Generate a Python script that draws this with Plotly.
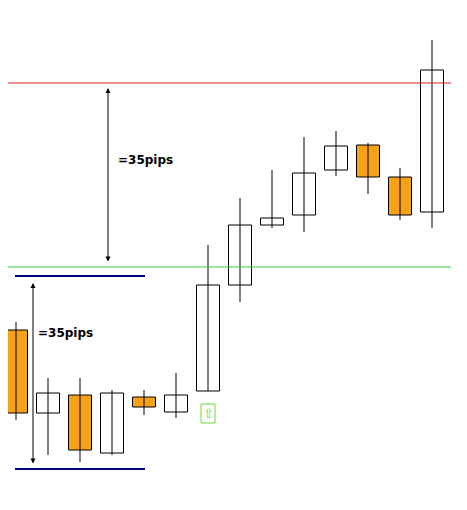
import plotly.graph_objects as go

H = 510
xs    = [16, 48, 80, 112, 144, 176, 208, 240, 272, 304, 336, 368, 400, 432]
opens = [330, 413, 395, 453, 397, 412, 391, 285, 225, 215, 170, 145, 177, 212]
closes= [413, 393, 450, 393, 407, 395, 285, 225, 218, 173, 146, 177, 215, 70]
highs = [322, 378, 378, 390, 390, 373, 245, 198, 170, 137, 131, 143, 168, 40]
lows  = [420, 455, 462, 455, 415, 418, 391, 302, 228, 232, 176, 194, 220, 228]
label = "=35pips"

P = lambda v: H - v
o = [P(v) for v in opens]; c = [P(v) for v in closes]
hi = [P(v) for v in highs]; lo = [P(v) for v in lows]

fig = go.Figure()
wx, wy = [], []
for x, h, l in zip(xs, hi, lo):
    wx += [x, x, None]; wy += [h, l, None]
fig.add_trace(go.Scatter(x=wx, y=wy, mode="lines", line=dict(color="black", width=1), hoverinfo="skip"))
colors = ["white" if cc > oo else "#F7A11A" for oo, cc in zip(o, c)]
fig.add_trace(go.Bar(x=xs, base=[min(a, b) for a, b in zip(o, c)], y=[abs(a - b) for a, b in zip(o, c)],
                     width=23, marker=dict(color=colors, line=dict(color="black", width=1))))

shapes = [
    dict(type="line", x0=0, x1=451, y0=P(83), y1=P(83), line=dict(color="#CC2222", width=1)),
    dict(type="line", x0=0, x1=451, y0=P(267), y1=P(267), line=dict(color="#33CC33", width=1)),
    dict(type="line", x0=15, x1=145, y0=P(276), y1=P(276), line=dict(color="#000080", width=2)),
    dict(type="line", x0=15, x1=145, y0=P(469), y1=P(469), line=dict(color="#000080", width=2)),
    dict(type="rect", x0=201, x1=215, y0=P(423), y1=P(404), line=dict(color="#66DD33", width=1)),
]
ann = [
    dict(x=108, y=P(88), ax=108, ay=P(263), xref="x", yref="y", axref="x", ayref="y", text="",
         showarrow=True, arrowhead=2, arrowside="end+start", arrowwidth=1, arrowcolor="black"),
    dict(x=33, y=P(283), ax=33, ay=P(465), xref="x", yref="y", axref="x", ayref="y", text="",
         showarrow=True, arrowhead=2, arrowside="end+start", arrowwidth=1, arrowcolor="black"),
    dict(x=116, y=P(160), text="<b>"+label+"</b>", showarrow=False, xanchor="left",
         font=dict(family="DejaVu Sans", size=12, color="black")),
    dict(x=36, y=P(333), text="<b>"+label+"</b>", showarrow=False, xanchor="left",
         font=dict(family="DejaVu Sans", size=12, color="black")),
    dict(x=208, y=P(413), text="⇧", showarrow=False, font=dict(size=13, color="#66DD33")),
]
fig.update_layout(width=467, height=510, margin=dict(l=0, r=0, t=0, b=0), showlegend=False,
                  plot_bgcolor="white", paper_bgcolor="white", shapes=shapes, annotations=ann,
                  xaxis=dict(range=[8, 475], visible=False),
                  yaxis=dict(range=[-8, 502], visible=False))
fig.write_html("out.html")
